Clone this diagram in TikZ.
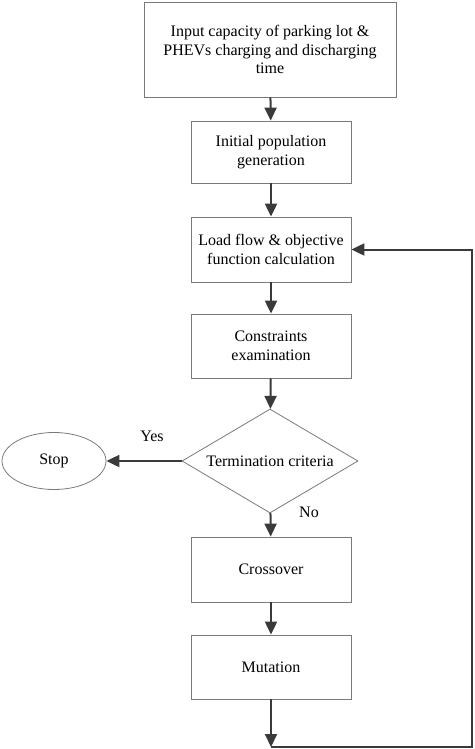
\documentclass[tikz,border=0pt]{standalone}
\usepackage{fontspec}
\setmainfont{Liberation Serif}
\usetikzlibrary{shapes.geometric,arrows.meta}
\definecolor{boxgray}{HTML}{7A7A7A}
\definecolor{arrgray}{HTML}{3A3A3A}
\tikzset{
    stepbox/.style={draw=boxgray,line width=0.8pt,align=center,inner sep=0pt},
    flow/.style={draw=arrgray,line width=2pt,-{Triangle[length=13pt,width=12pt]}},
    txt/.style={font=\fontsize{16}{18.5}\selectfont}
}
\begin{document}
\begin{tikzpicture}[x=1pt,y=-1pt,txt]
                \useasboundingbox (0,0) rectangle (474,749);
                \node[stepbox,minimum width=252pt,minimum height=95pt] (input) at (270,49.5)
                    {Input capacity of parking lot \&\\PHEVs charging and discharging\\time};
                \node[stepbox,minimum width=160pt,minimum height=62pt] (init) at (271,152)
                    {Initial population\\generation};
                \node[stepbox,minimum width=160pt,minimum height=65pt] (load) at (271,249.5)
                    {Load flow \& objective\\function calculation};
                \node[stepbox,minimum width=160pt,minimum height=64pt] (cons) at (271,346)
                    {Constraints\\examination};
                \node[stepbox,diamond,aspect=1.7,minimum width=176pt,minimum height=104pt] (term) at (270,461)
                    {Termination criteria};
                \node[stepbox,ellipse,minimum width=104pt,minimum height=57pt] (stop) at (54,461) {Stop};
                \node[stepbox,minimum width=160pt,minimum height=65pt] (cross) at (271,569.5) {Crossover};
                \node[stepbox,minimum width=160pt,minimum height=64pt] (mut) at (271,667) {Mutation};
                \node (yes) at (152,436) {Yes};
                \node (no) at (309,512) {No};
                \coordinate (bot) at (271,747);
                \coordinate (rgt) at (472,747);
                \draw[flow] (input) -- (init);
                \draw[flow] (init) -- (load);
                \draw[flow] (load) -- (cons);
                \draw[flow] (cons) -- (term);
                \draw[flow] (term) -- (stop);
                \draw[flow] (term) -- (cross);
                \draw[flow] (cross) -- (mut);
                \draw[flow] (mut) -- (bot);
                \draw[flow] (bot) -- (rgt) |- (load);
            \end{tikzpicture}
\end{document}
